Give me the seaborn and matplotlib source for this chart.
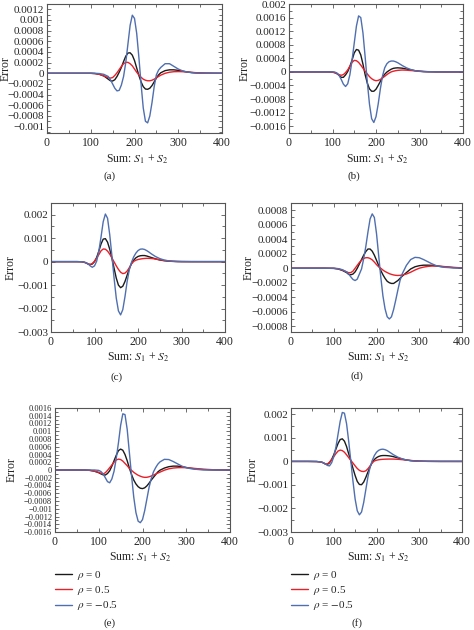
import numpy as np
import pandas as pd
import matplotlib
matplotlib.use("Agg")
import matplotlib.pyplot as plt
import seaborn as sns
from matplotlib.ticker import MultipleLocator, AutoMinorLocator, FuncFormatter

# ---------------- data (error values in units of 1e-4) ----------------
UNIT = 1e-4
LABELS = [r"$\rho$ = 0", r"$\rho$ = 0.5", r"$\rho$ = $-$0.5"]
COLORS = ["#1a1a1a", "#e8202a", "#4f6fb0"]

# panel (a)
xa = [0, 50, 100, 110, 120, 130, 140] + list(range(145, 261, 5)) + \
     [270, 280, 290, 300, 310, 320, 330, 340, 350, 360, 380, 400]
a_rho0 = [0, 0, 0, -0.05, -0.2, -0.5, -1.1, -1.4, -1.45, -1.2, -0.6, 0.2, 1.1, 2.2, 3.2, 3.8, 3.85,
          3.4, 2.4, 1.0, -0.4, -1.6, -2.5, -2.95, -3.0, -2.8, -2.3, -1.6, -0.9, -0.3, 0.1,
          0.5, 0.65, 0.65, 0.55, 0.4, 0.25, 0.15, 0.08, 0.04, 0.02, 0.01, 0]
a_rho05 = [0, 0, 0, -0.05, -0.2, -0.5, -0.8, -0.9, -0.8, -0.4, 0.1, 0.7, 1.3, 1.8, 2.05, 2.05, 1.8,
           1.4, 0.8, 0.2, -0.3, -0.75, -1.1, -1.3, -1.4, -1.4, -1.3, -1.1, -0.85, -0.6, -0.35,
           0.0, 0.2, 0.3, 0.32, 0.3, 0.25, 0.18, 0.12, 0.07, 0.04, 0.01, 0]
a_rhom05 = [0, 0, 0, 0, -0.05, -0.2, -0.6, -1.2, -2.0, -2.8, -3.3, -3.2, -2.2, -0.6, 2.0, 5.5, 9.0,
            10.9, 10.3, 7.5, 3.0, -2.0, -6.5, -9.0, -9.3, -8.0, -5.5, -2.5, -0.3, 0.6, 1.1,
            1.8, 1.8, 1.3, 0.8, 0.45, 0.25, 0.12, 0.06, 0.03, 0.01, 0, 0]

# panel (b)
xb = [0, 50, 80, 90, 100] + list(range(105, 251, 5)) + \
     [260, 270, 280, 290, 300, 310, 320, 340, 360, 400]
b_rho0 = [0, 0, 0, 0, -0.05, -0.2, -0.5, -1.0, -1.6, -1.6, -0.9, 0.1, 1.6, 3.5, 5.6, 6.6, 6.4, 5.0,
          2.3, -0.8, -3.3, -5.0, -5.7, -5.7, -5.1, -4.0, -2.8, -1.6, -0.7, -0.05, 0.4, 0.8,
          1.05, 1.15, 1.2, 1.1, 0.85, 0.6, 0.35, 0.2, 0.1, 0.05, 0.01, 0, 0]
b_rho05 = [0, 0, 0, -0.02, -0.1, -0.25, -0.5, -0.8, -1.0, -0.8, -0.2, 0.6, 1.7, 2.8, 3.4, 3.3, 2.8,
           2.0, 1.1, 0.2, -0.6, -1.4, -2.0, -2.4, -2.6, -2.5, -2.2, -1.8, -1.3, -0.8, -0.35,
           0.0, 0.2, 0.35, 0.45, 0.55, 0.5, 0.4, 0.3, 0.2, 0.12, 0.07, 0.02, 0, 0]
b_rhom05 = [0, 0, 0, 0, 0.0, -0.05, -0.3, -1.0, -2.2, -3.6, -4.3, -3.5, -0.8, 3.5, 8.5, 13.5, 16.5,
            16.0, 11.5, 4.5, -3.0, -9.5, -13.8, -14.9, -13.2, -9.5, -5.0, -1.2, 1.2, 2.4, 3.0,
            3.2, 3.2, 3.0, 2.7, 1.9, 1.2, 0.7, 0.35, 0.15, 0.07, 0.03, 0.01, 0, 0]

# panel (c)
xc = [0, 40, 60, 70] + list(range(75, 241, 5)) + [250, 260, 270, 280, 290, 300, 320, 350, 400]
c_rho0 = [0, 0, 0, -0.05, -0.2, -0.5, -1.0, -1.3, -1.0, 0.0, 1.8, 4.5, 7.5, 9.6, 9.8, 8.3, 5.3,
          1.5, -2.8, -7.0, -10.0, -11.1, -10.5, -8.5, -5.8, -3.0, -0.8, 0.6, 1.6, 2.2, 2.5,
          2.6, 2.6, 2.4, 2.1, 1.8, 1.5, 1.2, 0.7, 0.4, 0.2, 0.1, 0.04, 0.02, 0, 0, 0]
c_rho05 = [0, 0, 0, -0.05, -0.2, -0.5, -0.9, -1.2, -0.8, 0.2, 1.5, 3.0, 4.6, 5.4, 5.3, 4.5, 3.2,
           1.6, -0.1, -1.8, -3.3, -4.5, -5.1, -4.9, -4.0, -2.6, -1.0, 0.1, 0.6, 0.9, 1.1,
           1.25, 1.35, 1.4, 1.4, 1.35, 1.25, 1.1, 0.8, 0.5, 0.3, 0.15, 0.08, 0.03, 0.01, 0, 0]
c_rhom05 = [0, 0, 0, -0.05, -0.15, -0.4, -0.9, -1.8, -2.4, -1.8, 0.2, 4.5, 10.5, 17.0, 20.3, 18.5,
            11.5, 2.5, -7.0, -15.5, -21.0, -22.7, -20.5, -15.0, -8.5, -3.5, -0.3, 2.0, 3.6,
            4.7, 5.3, 5.4, 5.2, 4.7, 4.1, 3.4, 2.8, 2.2, 1.3, 0.7, 0.35, 0.15, 0.06, 0.02, 0, 0, 0]

# panel (d)
xd = [0, 50, 80, 100, 110, 120, 130] + list(range(135, 261, 5)) + \
     [270, 280, 290, 300, 310, 320, 330, 340, 350, 360, 380, 400]
d_rho0 = [0, 0, 0, -0.02, -0.1, -0.3, -0.6, -0.85, -0.9, -0.8, -0.5, 0.0, 0.6, 1.2, 1.8, 2.3,
          2.65, 2.65, 2.35, 1.8, 1.1, 0.4, -0.3, -0.9, -1.4, -1.8, -2.0, -2.1, -2.1, -1.9,
          -1.7, -1.4, -1.1, -0.6, -0.1, 0.2, 0.35, 0.42, 0.42, 0.4, 0.33, 0.25, 0.18, 0.08, 0.03]
d_rho05 = [0, 0, 0, -0.02, -0.08, -0.25, -0.5, -0.62, -0.6, -0.4, 0.0, 0.4, 0.8, 1.1, 1.35, 1.45,
           1.45, 1.35, 1.15, 0.85, 0.5, 0.2, 0.0, -0.25, -0.45, -0.6, -0.75, -0.85, -0.93,
           -0.98, -1.0, -0.98, -0.93, -0.8, -0.55, -0.25, 0.0, 0.15, 0.25, 0.3, 0.3, 0.27,
           0.22, 0.12, 0.05]
d_rhom05 = [0, 0, 0, 0, -0.05, -0.2, -0.5, -0.8, -1.2, -1.55, -1.7, -1.5, -0.8, -0.1, 1.3, 3.0,
            5.0, 6.8, 7.5, 7.0, 4.8, 1.8, -1.2, -3.8, -5.6, -6.7, -7.0, -6.7, -5.7, -4.4,
            -3.0, -1.7, -0.8, 0.4, 1.2, 1.5, 1.45, 1.2, 0.9, 0.6, 0.35, 0.2, 0.12, 0.05, 0.02]

# panel (e)
xe = [0, 50, 70, 80, 90, 100] + list(range(105, 241, 5)) + \
     [250, 260, 270, 280, 290, 300, 310, 320, 330, 340, 360, 380, 400]
e_rho0 = [0, 0, -0.02, -0.1, -0.3, -0.7, -1.0, -1.25, -1.3, -0.9, -0.2, 1.0, 2.4, 3.8, 5.0, 5.4,
          5.1, 4.0, 2.4, 0.5, -1.2, -2.6, -3.6, -4.3, -4.7, -4.8, -4.6, -4.1, -3.4, -2.6,
          -1.9, -1.2, -0.5, -0.05, 0.5, 0.85, 1.0, 1.0, 0.85, 0.65, 0.45, 0.3, 0.18, 0.1,
          0.04, 0.01, 0]
e_rho05 = [0, 0, -0.02, -0.1, -0.3, -0.6, -0.85, -1.0, -0.7, -0.1, 0.6, 1.3, 2.0, 2.6, 2.8, 2.7,
           2.3, 1.7, 1.1, 0.4, -0.1, -0.6, -1.0, -1.35, -1.6, -1.8, -1.9, -1.88, -1.75, -1.55,
           -1.3, -1.05, -0.8, -0.55, -0.05, 0.3, 0.5, 0.6, 0.62, 0.6, 0.5, 0.4, 0.3, 0.2,
           0.08, 0.03, 0]
e_rhom05 = [0, 0, 0, 0, 0, -0.1, -0.4, -1.0, -2.0, -3.0, -3.3, -2.3, -0.3, 3.0, 7.0, 11.5, 14.5,
            14.3, 10.5, 4.5, -1.5, -7.0, -11.0, -13.2, -13.6, -12.8, -10.5, -7.5, -4.5, -2.2,
            -0.5, 0.6, 1.5, 2.1, 2.75, 2.7, 2.2, 1.6, 1.0, 0.6, 0.35, 0.2, 0.1, 0.05, 0.02, 0, 0]

# panel (f)
xf = [0, 40, 60, 70] + list(range(75, 241, 5)) + [250, 260, 270, 280, 290, 300, 320, 350, 400]
f_rho0 = [0, 0, -0.05, -0.25, -0.55, -1.1, -1.3, -0.6, 0.8, 2.8, 5.2, 7.6, 9.3, 9.6, 8.6, 6.3,
          3.2, 0.3, -3.0, -6.0, -8.5, -9.8, -9.9, -8.8, -6.8, -4.5, -2.3, -0.4, 0.8, 1.6,
          2.1, 2.4, 2.5, 2.5, 2.45, 2.35, 2.2, 2.0, 1.5, 1.0, 0.6, 0.35, 0.2, 0.1, 0.03, 0, 0]
f_rho05 = [0, 0, -0.05, -0.25, -0.55, -1.0, -1.15, -0.3, 0.8, 2.0, 3.3, 4.4, 4.8, 4.6, 3.9, 2.8,
           1.6, 0.4, -0.7, -1.9, -3.0, -3.8, -4.2, -4.3, -4.0, -3.1, -1.9, -0.6, 0.2, 0.5,
           0.7, 0.82, 0.9, 0.95, 0.98, 1.0, 1.0, 0.98, 0.9, 0.75, 0.55, 0.4, 0.25, 0.15, 0.05,
           0.01, 0]
f_rhom05 = [0, 0, -0.05, -0.2, -0.5, -1.0, -1.7, -1.9, -0.6, 2.0, 6.0, 11.5, 17.0, 20.8, 20.5,
            16.0, 8.5, 0.0, -8.5, -16.0, -21.0, -22.7, -21.5, -17.5, -12.0, -6.5, -2.5, 0.4,
            2.5, 3.9, 4.7, 5.1, 5.2, 5.0, 4.6, 4.0, 3.4, 2.8, 1.8, 1.1, 0.6, 0.3, 0.15, 0.07,
            0.02, 0, 0]

PANELS = [
    ("(a)", xa, [a_rho0, a_rho05, a_rhom05]),
    ("(b)", xb, [b_rho0, b_rho05, b_rhom05]),
    ("(c)", xc, [c_rho0, c_rho05, c_rhom05]),
    ("(d)", xd, [d_rho0, d_rho05, d_rhom05]),
    ("(e)", xe, [e_rho0, e_rho05, e_rhom05]),
    ("(f)", xf, [f_rho0, f_rho05, f_rhom05]),
]

# ---------------- layout / style ----------------
W, H = 474, 630
# (left, right, top, bottom) in pixels
BOXES = [(47, 222, 4, 133), (289, 463, 4, 133),
         (51, 225, 203, 332), (291, 462, 203, 332),
         (55, 230, 408, 532), (291, 462, 408, 532)]
YLIMS = [(-0.00112, 0.0013), (-0.0018, 0.002), (-0.003, 0.0025),
         (-0.00088, 0.0009), (-0.0016, 0.0016), (-0.003, 0.00227)]
YSTEP = [0.0002, 0.0004, 0.001, 0.0002, 0.0002, 0.001]
YFS = [8, 8, 8, 8, 6, 8]
YLABEL_X = [6, 245, 11, 249, 12, 253]
XLABEL_X = [137, 377, 138, 378, 140, 378]
XLABEL_Y = [159, 159, 357, 357, 557, 557]
TAG_X = [110, 354, 117, 357, 110, 357]
TAG_Y = [176, 176, 377, 376, 623, 623]

sns.set_style("ticks")
plt.rcParams["font.family"] = ["Liberation Serif", "DejaVu Serif"]
plt.rcParams["mathtext.fontset"] = "stix"
plt.rcParams["axes.unicode_minus"] = True

fig = plt.figure(figsize=(W / 100, H / 100), dpi=100)
fig.patch.set_facecolor("white")


def yfmt(v, pos):
    if abs(v) < 1e-12:
        return "0"
    return ("%g" % round(v, 8)).replace("-", "\u2212")


for i, (tag, xs, series) in enumerate(PANELS):
    l, r, t, b = BOXES[i]
    ax = fig.add_axes([l / W, 1 - b / H, (r - l) / W, (b - t) / H])
    rows = []
    for lab, vals in zip(LABELS, series):
        for xv, yv in zip(xs, vals):
            rows.append({"x": xv, "err": yv * UNIT, "rho": lab})
    df = pd.DataFrame(rows)
    show_leg = i >= 4
    sns.lineplot(data=df, x="x", y="err", hue="rho", hue_order=LABELS,
                 palette=dict(zip(LABELS, COLORS)), linewidth=1.0, ax=ax,
                 legend=show_leg, sort=False)
    ax.set_xlim(0, 400)
    ax.set_ylim(*YLIMS[i])
    ax.minorticks_on()
    ax.xaxis.set_major_locator(MultipleLocator(100))
    ax.xaxis.set_minor_locator(MultipleLocator(50))
    ax.yaxis.set_major_locator(MultipleLocator(YSTEP[i]))
    ax.yaxis.set_minor_locator(AutoMinorLocator(2))
    ax.yaxis.set_major_formatter(FuncFormatter(yfmt))
    ax.tick_params(which="both", direction="in", top=True, right=True,
                   color="#555555", width=0.6)
    ax.tick_params(which="major", length=3)
    ax.tick_params(which="minor", length=2)
    ax.tick_params(axis="x", labelsize=8.5, pad=3)
    ax.tick_params(axis="y", labelsize=YFS[i], pad=2)
    for s in ax.spines.values():
        s.set_color("#555555")
        s.set_linewidth(0.8)
    ax.set_xlabel("")
    ax.set_ylabel("")
    fig.text(YLABEL_X[i] / W, 1 - ((t + b) / 2) / H, "Error", rotation=90,
             ha="center", va="center", fontsize=8.5)
    fig.text(XLABEL_X[i] / W, 1 - XLABEL_Y[i] / H, r"Sum: $S_1$ + $S_2$",
             ha="center", va="center", fontsize=8.5)
    fig.text(TAG_X[i] / W, 1 - TAG_Y[i] / H, tag, ha="center", va="center",
             fontsize=8)
    if show_leg:
        sns.move_legend(ax, "upper left",
                        bbox_to_anchor=(l / W, 1 - 569 / H),
                        bbox_transform=fig.transFigure, frameon=False,
                        title=None, fontsize=8, handlelength=1.55,
                        handletextpad=0.45, borderpad=0, borderaxespad=0,
                        labelspacing=0.2)

fig.savefig("out.png", dpi=100, facecolor="white")
